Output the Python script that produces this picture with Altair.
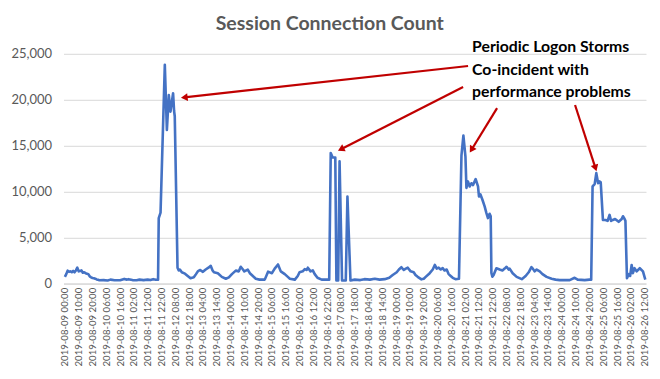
import math
import altair as alt
import pandas as pd

# ---------------- data ----------------
START = "2019-08-09 00:00"
HOURS = [
    0, 1, 2, 3, 4, 5, 6, 7, 8, 9, 10, 11, 12, 13, 14, 15, 16, 17, 18, 19, 20, 21, 22, 23, 24, 25,
    28, 31, 33, 36, 40, 43, 45, 46, 49, 52, 54, 57, 60, 62, 64, 66, 67.5,
    68, 69.3, 72.4, 73.9, 75.3, 76.5, 78.4, 79.1, 79.6, 81.6,
    82.5, 83.3, 84.7, 87, 89, 91, 93.4, 95, 96.3, 97.8, 100, 102, 104, 105.7, 107, 108, 110.8,
    113.7, 116.6, 118.8, 121, 123.8, 126, 127.4, 129, 130, 132.5, 134, 135.4, 138.3, 141, 144.8,
    147.2, 150, 152, 154.4, 156.4, 159.3, 161.5, 163, 166.6, 168.7, 170, 172.3, 173.8, 175.2, 176,
    178, 179.6, 181, 183, 186, 189, 191.5,
    192.6, 194, 195.9, 196.7, 198, 199, 200.8, 203.5, 204.7, 206.9,
    210, 214, 217, 221, 224.5, 228, 231.7, 235, 237.5, 240.4, 242, 243.8, 245.5, 247, 248.4, 250.5,
    252.7, 254, 255.6, 258.3, 260, 261.4, 264.3, 266.5, 268, 269.4, 270.8, 272.3, 273.7, 275, 276.6,
    278, 279.5, 281, 283, 285.5,
    287.3, 288.7, 290.2, 290.9, 292, 293.3, 294.5, 295.7, 297.6, 299.3, 300, 301, 302.5, 304.1,
    305.4, 306.5, 307.7, 308.5, 309, 309.7, 310.6, 312.6,
    315, 317, 318.6, 320, 321.5, 322.2, 324.4, 327.3, 331, 333.8, 336, 338, 339, 340.3, 341.8, 344,
    346, 349, 352.6, 355.5, 358.5, 362, 365.7, 369.3, 371.5, 376.6, 380, 381.3,
    382.3, 383.8, 385, 386.3, 387.4, 388.2, 389.8, 391.7, 393.2, 394.6, 395.7, 397, 398.6, 401.2,
    403.4, 404.3, 405.5, 406.1, 407.2, 408.5, 409.5, 410.6, 411.5, 412.7, 414.2, 416.5, 418.8, 420.5,
]
COUNTS = [
    700, 1000, 1380, 1250, 1300, 1200, 1350, 1200, 1400, 1700, 1300, 1350, 1400, 1150, 1200, 1100,
    1050, 1000, 750, 650, 580, 550, 500, 420, 380, 330,
    350, 300, 400, 330, 330, 480, 400, 450, 350, 330, 400, 350, 400, 350, 450, 380, 400,
    7100, 7700, 23800, 16700, 20500, 18700, 20700, 18800, 18200, 1700,
    1400, 1500, 1200, 1050, 800, 550, 650, 1000, 1300, 1450, 1250, 1500, 1700, 1900, 1400, 1200, 1100,
    700, 500, 650, 1000, 1380, 1300, 1800, 1500, 1300, 1500, 1100, 900, 500, 400, 400,
    1270, 1100, 1600, 2050, 1300, 1000, 700, 500, 400, 800, 1200, 1300, 1550, 1450, 1700,
    1300, 1400, 1000, 600, 400, 400, 400,
    14200, 13700, 13700, 300, 300, 13300, 300, 300, 9450, 300,
    400, 350, 450, 400, 500, 400, 450, 600, 900, 1200, 1500, 1750, 1450, 1600, 1700, 1300,
    1200, 900, 700, 430, 500, 700, 1100, 1500, 2000, 1600, 1700, 1500, 1650, 1400, 1500,
    1000, 800, 600, 450, 500,
    13900, 16100, 13800, 10400, 11100, 10550, 10900, 10700, 11350, 10550, 9460, 9700, 9100, 8370,
    7650, 7100, 7570, 7300, 1120, 720, 900, 1640,
    1500, 1400, 1600, 1800, 1500, 1600, 1100, 700, 450, 800, 1200, 1750, 1600, 1300, 1500, 1300,
    1000, 700, 500, 400, 350, 350, 350, 600, 400, 350, 400, 400,
    10550, 10800, 12000, 10900, 11100, 11000, 6900, 6900, 6800, 7450, 6800, 6900, 7000, 6700,
    7000, 7300, 7000, 6800, 550, 1000, 800, 2000, 1100, 1650, 1300, 1640, 1300, 400,
]

# annotation: arrows (start hour, start value, end hour, end value)
ARROW_H1 = [292.1, 288.5, 313.1, 369.6]
ARROW_V1 = [23670, 21380, 19090, 19420]
ARROW_H2 = [86.5, 200.0, 294.6, 384.4]
ARROW_V2 = [20250, 14600, 14550, 12550]

NOTE_LINES = ["Periodic Logon Storms", "Co-incident with", "performance problems"]
NOTE_H = 295.0
NOTE_V = [25740, 23235, 20840]

TITLE = "Session Connection Count"
Y_TICKS = [0, 5000, 10000, 15000, 20000, 25000]
TICK_STEP_H = 10
N_TICKS = 43

# ---------------- build ----------------
W, H = 582.5, 229.5
H_MIN, H_MAX = -1, 421
V_MAX = 25000
start = pd.Timestamp(START)

df = pd.DataFrame({
    "t": start + pd.to_timedelta(HOURS, unit="h"),
    "count": COUNTS,
})

px_per_h = W / (H_MAX - H_MIN)
px_per_v = H / V_MAX
angles = []
for h1, v1, h2, v2 in zip(ARROW_H1, ARROW_V1, ARROW_H2, ARROW_V2):
    dx = (h2 - h1) * px_per_h
    dy = -(v2 - v1) * px_per_v
    angles.append(math.degrees(math.atan2(dx, -dy)) % 360)

arrows = pd.DataFrame({
    "t1": start + pd.to_timedelta(ARROW_H1, unit="h"),
    "v1": ARROW_V1,
    "t2": start + pd.to_timedelta(ARROW_H2, unit="h"),
    "v2": ARROW_V2,
    "ang": angles,
})
notes = pd.DataFrame({
    "t": [start + pd.Timedelta(hours=NOTE_H)] * len(NOTE_LINES),
    "v": NOTE_V,
    "txt": NOTE_LINES,
})


def dt(ts):
    return alt.DateTime(year=ts.year, month=ts.month, date=ts.day, hours=ts.hour)


tick_vals = [dt(start + pd.Timedelta(hours=TICK_STEP_H * i)) for i in range(N_TICKS)]
x_dom = [dt(start + pd.Timedelta(hours=H_MIN)), dt(start + pd.Timedelta(hours=H_MAX))]

GREY = "#595959"
RED = "#C00000"
FONT = "Lato"

xscale = alt.Scale(domain=x_dom)
yscale = alt.Scale(domain=[0, V_MAX], nice=False)
X_AXIS = alt.Axis(values=tick_vals, format="%Y-%m-%d %H:%M", labelAngle=-90,
                  labelFont=FONT, labelFontSize=9.6, labelColor=GREY,
                  ticks=False, grid=False, domainColor="#d9d9d9", domainWidth=1,
                  labelPadding=4, labelOverlap=False, labelBound=False, labelFlush=False,
                  title=None)
Y_AXIS = alt.Axis(values=Y_TICKS, format=",.0f", labelFont=FONT, labelFontSize=13,
                  labelColor=GREY, ticks=False, domain=False, gridColor="#d9d9d9",
                  gridWidth=1, labelPadding=12, title=None)

line = alt.Chart(df).mark_line(color="#4472C4", strokeWidth=2.6, strokeJoin="round").encode(
    x=alt.X("t:T", scale=xscale, axis=X_AXIS),
    y=alt.Y("count:Q", scale=yscale, axis=Y_AXIS),
)

arrow_lines = alt.Chart(arrows).mark_rule(color=RED, strokeWidth=2.2).encode(
    x=alt.X("t1:T", scale=xscale, axis=X_AXIS), x2="t2:T",
    y=alt.Y("v1:Q", scale=yscale, axis=Y_AXIS), y2="v2:Q",
)
arrow_heads = alt.Chart(arrows).mark_point(shape="triangle-up", filled=True, color=RED,
                                           size=60, opacity=1).encode(
    x=alt.X("t2:T", scale=xscale, axis=X_AXIS),
    y=alt.Y("v2:Q", scale=yscale, axis=Y_AXIS),
    angle=alt.Angle("ang:Q", scale=None),
)
note_text = alt.Chart(notes).mark_text(align="left", baseline="middle", font=FONT,
                                       fontSize=15.8, fontWeight="bold", color="black",
                                       clip=False).encode(
    x=alt.X("t:T", scale=xscale, axis=X_AXIS),
    y=alt.Y("v:Q", scale=yscale, axis=Y_AXIS),
    text="txt:N",
)

chart = alt.layer(line, arrow_lines, arrow_heads, note_text).properties(
    width=W, height=H,
    title=alt.Title(TITLE, font=FONT, fontSize=19.5, fontWeight="bold", color=GREY,
                    anchor="middle", dx=-25, offset=5),
    autosize=alt.AutoSizeParams(type="none"),
    padding={"left": 55.5, "top": 45.8, "right": 4, "bottom": 87},
    background="white",
).configure_view(stroke=None).configure_axisX(labelOverlap=False)

chart.save("out.html", embed_options={"renderer": "svg", "actions": False})
